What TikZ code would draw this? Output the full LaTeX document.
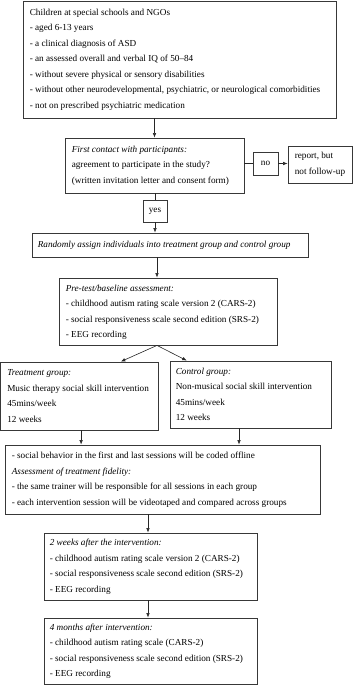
\documentclass[tikz,border=0pt]{standalone}
\usepackage{fontspec}
\setmainfont{Liberation Serif}
\usetikzlibrary{arrows.meta,calc}
\begin{document}
\begin{tikzpicture}[x=1pt,y=-1pt,
  frame/.style={draw=black!78, line width=0.8pt, inner sep=0pt},
  txt/.style={inner sep=0pt, align=left, anchor=west, font=\fontsize{9.2}{15.5}\selectfont},
  ctxt/.style={inner sep=0pt, font=\fontsize{9.2}{15.5}\selectfont},
  arr/.style={-{Latex[length=4.5pt,width=3.5pt]}, line width=0.6pt, draw=black!85},
  ln/.style={line width=0.6pt, draw=black!85}]
\useasboundingbox (0,0) rectangle (353,685);

% boxes
\node[frame, minimum width=313pt, minimum height=117pt] (b1) at (179.5,59.5) {};
\node[txt] (b1t) at ([xshift=7pt]b1.west) {Children at special schools and NGOs\\
- aged 6-13 years\\
- a clinical diagnosis of ASD\\
- an assessed overall and verbal IQ of 50–84\\
- without severe physical or sensory disabilities\\
- without other neurodevelopmental, psychiatric, or neurological comorbidities\\
- not on prescribed psychiatric medication};

\node[frame, minimum width=179pt, minimum height=55pt] (b2) at (154.5,165.5) {};
\node[txt] (b2t) at ([xshift=7pt]b2.west) {\textit{First contact with participants:}\\
agreement to participate in the study?\\
(written invitation letter and consent form)};

\node[frame, minimum width=25pt, minimum height=23pt] (no) at (265.5,163.5) {};
\node[ctxt] (not) at (no.center) {no};

\node[frame, minimum width=64pt, minimum height=37pt] (rep) at (320,164.5) {};
\node[txt] (rept) at ([xshift=7pt]rep.west) {report, but\\not follow-up};

\node[frame, minimum width=24pt, minimum height=22pt] (yes) at (155,211) {};
\node[ctxt] (yest) at (yes.center) {yes};

\node[frame, minimum width=276pt, minimum height=24pt] (b3) at (170,245) {};
\node[txt] (b3t) at ([xshift=6pt]b3.west) {\textit{Randomly assign individuals into treatment group and control group}};

\node[frame, minimum width=218pt, minimum height=67pt] (b4) at (168,311.5) {};
\node[txt] (b4t) at ([xshift=7pt,yshift=-1pt]b4.west) {\textit{Pre-test/baseline assessment:}\\
- childhood autism rating scale version 2 (CARS-2)\\
- social responsiveness scale second edition (SRS-2)\\
- EEG recording};

\node[frame, minimum width=158pt, minimum height=68pt] (tr) at (79.5,396) {};
\node[txt] (trt) at ([xshift=7pt]tr.west) {\textit{Treatment group:}\\
Music therapy social skill intervention\\
45mins/week\\
12 weeks};

\node[frame, minimum width=161pt, minimum height=67pt] (ct) at (250.5,394.5) {};
\node[txt] (ctt) at ([xshift=6pt]ct.west) {\textit{Control group:}\\
Non-musical social skill intervention\\
45mins/week\\
12 weeks};

\node[frame, minimum width=315pt, minimum height=69pt] (b5) at (162.5,479.5) {};
\node[txt] (b5t) at ([xshift=7pt]b5.west) {- social behavior in the first and last sessions will be coded offline\\
\textit{Assessment of treatment fidelity:}\\
- the same trainer will be responsible for all sessions in each group\\
- each intervention session will be videotaped and compared across groups};

\node[frame, minimum width=213pt, minimum height=67pt] (b6) at (150.5,566.5) {};
\node[txt] (b6t) at ([xshift=6pt]b6.west) {\textit{2 weeks after the intervention:}\\
- childhood autism rating scale version 2 (CARS-2)\\
- social responsiveness scale second edition (SRS-2)\\
- EEG recording};

\node[frame, minimum width=213pt, minimum height=66pt] (b7) at (150.5,651) {};
\node[txt] (b7t) at ([xshift=6pt]b7.west) {\textit{4 months after intervention:}\\
- childhood autism rating scale (CARS-2)\\
- social responsiveness scale second edition (SRS-2)\\
- EEG recording};

% connectors
\draw[arr] (b1.south -| b2.north) -- (b2.north);
\draw[ln] (b2.east |- no.west) -- (no.west);
\draw[arr] (no.east) -- (no.east -| rep.west);
\draw[ln] (b2.south -| yes.north) -- (yes.north);
\draw[arr] (yes.south) -- (yes.south |- b3.north);
\coordinate (b3s) at ($(b3.south west)!0.453!(b3.south east)$);
\draw[arr] (b3s) -- (b3s |- b4.north);
\coordinate (split) at (b4.south -| b3s);
\draw[arr] (split) -- ($(tr.north west)!0.76!(tr.north east)$);
\draw[arr] (split) -- ($(ct.north west)!0.106!(ct.north east)$);
\coordinate (trs) at ($(tr.south west)!0.51!(tr.south east)$);
\draw[arr] (trs) -- (trs |- b5.north);
\coordinate (cts) at ($(ct.south west)!0.429!(ct.south east)$);
\draw[arr] (cts) -- (cts |- b5.north);
\coordinate (b5s) at ($(b5.south west)!0.454!(b5.south east)$);
\draw[arr] (b5s) -- (b5s |- b6.north);
\draw[arr] (b6.south -| b5s) -- (b7.north -| b5s);
\end{tikzpicture}
\end{document}
